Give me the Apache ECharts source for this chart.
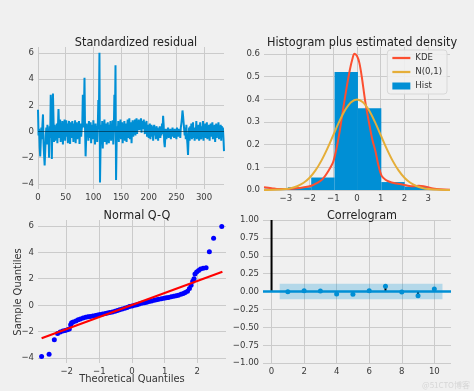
<!DOCTYPE html>
<html><head><meta charset="utf-8">
<script src="https://cdn.jsdelivr.net/npm/echarts@6/dist/echarts.min.js"></script>
<style>html,body{margin:0;padding:0;background:#f0f0f0}#c{width:474px;height:391px}</style>
</head><body><div id="c"></div>
<script>
// ---------- data ----------
const residual = [
 1.65,-0.3,0.2,-1.2,-1.9,-0.8,0.3,-0.6,0.5,1.3,
 -0.9,-1.8,-2.6,-1.5,-0.4,0.3,-1.0,0.5,-0.6,0.1,
 -2.0,0.4,-0.5,2.8,1.2,-2.1,0.6,2.9,1.0,-0.8,
 0.5,-0.7,0.2,-0.4,0.6,-0.9,0.3,1.7,0.4,-0.5,
 0.9,-0.8,0.3,-0.2,0.8,-1.0,0.5,0.1,0.9,-0.7,
 0.2,0.85,-0.4,0.6,-0.9,0.3,0.8,-0.2,-0.95,0.7,
 0.4,-0.5,0.8,0.1,-0.8,0.6,-0.3,0.85,-0.9,0.2,
 0.7,-0.6,0.4,-0.1,0.8,-0.95,0.3,0.6,-0.4,0.2,
 0.5,2.8,0.3,1.5,4.1,0.2,-1.9,-0.5,0.6,-0.3,
 0.4,-0.7,0.8,0.0,-0.5,0.7,-0.9,0.3,0.5,-0.6,
 0.85,-0.3,0.2,-1.0,0.6,-0.2,0.4,-0.8,0.3,2.4,
 1.0,6.0,-3.9,-1.2,0.5,-0.6,0.8,-1.3,0.4,-0.2,
 0.9,-0.8,0.2,0.6,-1.0,0.3,0.7,-0.5,-0.9,0.5,
 0.2,0.8,-0.7,0.3,-0.4,0.85,-1.0,0.1,2.8,0.9,
 5.05,-3.7,-0.9,0.4,-0.3,0.8,-0.8,0.5,0.0,0.9,
 -0.6,0.3,0.7,-0.9,0.4,-0.2,0.8,-0.7,0.2,0.6,
 -0.8,0.3,0.9,-0.5,0.1,1.0,-0.6,0.4,0.7,-0.9,
 0.3,0.85,-0.4,0.5,0.2,0.9,-0.3,0.6,1.0,-0.2,
 0.7,0.4,0.9,0.1,0.8,0.3,1.0,-0.1,0.6,0.8,
 0.2,0.9,0.4,-0.2,0.7,0.3,0.8,-0.4,0.5,0.6,
 -0.5,0.3,0.6,-0.6,0.2,0.5,-0.4,0.4,-0.7,0.3,
 0.5,-0.3,0.1,-0.6,0.4,-0.2,0.3,-0.7,0.2,-0.4,
 0.4,-0.5,0.1,-0.3,0.6,-0.2,1.2,0.5,-0.8,-1.2,
 -0.4,0.2,-0.6,0.1,-0.3,0.3,-0.5,0.0,-0.2,0.2,
 -0.6,0.1,-0.3,0.3,-0.4,0.0,-0.5,0.2,-0.2,0.1,
 -0.6,0.3,-0.1,-0.4,0.2,-0.3,0.1,-0.5,0.3,0.6,
 1.0,1.6,1.2,0.7,0.2,-0.3,0.3,-0.6,0.5,-0.4,
 -1.0,-1.8,-0.5,0.3,-0.7,0.4,-0.3,0.6,-0.6,0.2,
 0.7,-0.5,0.1,-0.7,0.3,-0.2,0.8,-0.6,0.2,-0.4,
 0.5,-0.7,0.1,0.7,-0.3,-0.6,0.4,-0.2,0.8,-0.7,
 0.2,-0.4,0.6,-0.5,0.1,0.7,-0.6,0.3,-0.3,0.5,
 -0.7,0.2,0.6,-0.4,-0.1,0.7,-0.6,0.3,-0.2,0.5,
 -0.8,0.1,0.6,-0.5,0.3,-0.3,0.7,-0.6,0.2,-0.4,
 0.5,-0.7,0.4,-0.2,0.3,-0.5,-1.5
];
const residTicksX = [0,50,100,150,200,250,300];
const residTicksY = [-4,-2,0,2,4,6];

const histLo = [-3.9,-2.915,-1.93,-0.945,0.04,1.025,2.01,2.995,3.98,4.965];
const histHi = [-2.915,-1.93,-0.945,0.04,1.025,2.01,2.995,3.98,4.965,5.95];
const histH  = [0.006,0.012,0.055,0.52,0.36,0.035,0.015,0.0,0.003,0.006];
const kdeX = [-3.92,-3.6,-3.3,-3.0,-2.7,-2.4,-2.1,-1.9,-1.7,-1.45,-1.2,-1.0,-0.85,-0.72,-0.58,-0.44,-0.3,-0.2,-0.11,0.0,0.1,0.2,0.34,0.5,0.65,0.78,0.9,1.04,1.2,1.4,1.6,1.8,2.0,2.2,2.4,2.6,2.8,3.0,3.2,3.5,3.92];
const kdeY = [0.012,0.008,0.004,0.004,0.006,0.009,0.014,0.02,0.03,0.048,0.085,0.125,0.19,0.265,0.36,0.45,0.53,0.575,0.6,0.59,0.56,0.5,0.395,0.3,0.22,0.17,0.11,0.062,0.045,0.035,0.03,0.026,0.022,0.018,0.017,0.019,0.017,0.012,0.007,0.003,0.001];
const normX = [-3.92,-3.5,-3.0,-2.75,-2.5,-2.25,-2.0,-1.75,-1.5,-1.25,-1.0,-0.75,-0.5,-0.25,0,0.25,0.5,0.75,1.0,1.25,1.5,1.75,2.0,2.25,2.5,2.75,3.0,3.5,3.92];
const normY = [0.0002,0.0009,0.0044,0.0091,0.0175,0.0317,0.054,0.0863,0.1295,0.1826,0.242,0.3011,0.3521,0.3867,0.3989,0.3867,0.3521,0.3011,0.242,0.1826,0.1295,0.0863,0.054,0.0317,0.0175,0.0091,0.0044,0.0009,0.0002];
const histTicksX = [-3,-2,-1,0,1,2,3];
const histTicksY = [0,0.1,0.2,0.3,0.4,0.5,0.6];

const qqTheo = [-2.77,-2.54,-2.38,-2.28,-2.2,-2.12,-2.05,-1.98,-1.92,-1.88,-1.85,-1.8,-1.72,-1.65,-1.58,-1.5,-1.42,-1.35,-1.28,-1.2,-1.12,-1.05,-0.98,-0.9,-0.82,-0.75,-0.68,-0.6,-0.52,-0.45,-0.38,-0.3,-0.22,-0.15,-0.08,0.0,0.08,0.15,0.22,0.3,0.38,0.45,0.52,0.6,0.68,0.75,0.82,0.9,0.98,1.05,1.12,1.2,1.28,1.35,1.42,1.5,1.57,1.63,1.7,1.76,1.81,1.86,1.9,1.93,1.98,2.04,2.1,2.18,2.27,2.37,2.5,2.75];
const qqSample = [-3.9,-3.72,-2.62,-2.15,-2.05,-1.97,-1.92,-1.88,-1.82,-1.5,-1.35,-1.28,-1.2,-1.12,-1.05,-0.98,-0.93,-0.89,-0.86,-0.83,-0.79,-0.76,-0.72,-0.68,-0.64,-0.6,-0.56,-0.52,-0.47,-0.42,-0.36,-0.3,-0.24,-0.18,-0.12,-0.07,-0.02,0.03,0.08,0.13,0.18,0.22,0.27,0.31,0.36,0.4,0.44,0.48,0.52,0.55,0.58,0.62,0.66,0.7,0.75,0.82,0.88,0.95,1.05,1.25,1.5,1.8,2.0,2.35,2.5,2.62,2.72,2.78,2.82,4.04,5.05,5.95];
const qqLineX = [-2.77,2.77];
const qqLineY = [-2.52,2.52];
const qqTicksX = [-2,-1,0,1,2];
const qqTicksY = [-4,-2,0,2,4,6];

const acfLags = [0,1,2,3,4,5,6,7,8,9,10];
const acfVals = [1.0,-0.005,0.01,0.008,-0.035,-0.04,0.01,0.075,-0.008,-0.058,0.035];
const confLo = [0.5], confHi = [10.5], confHalf = [0.107];
const acfTicksX = [0,2,4,6,8,10];
const acfTicksY = [-1,-0.75,-0.5,-0.25,0,0.25,0.5,0.75,1];

// ---------- styles ----------
const FONT = '"DejaVu Sans Condensed", "DejaVu Sans"';
const GRIDC = '#cbcbcb';
const TXT = '#3a3a3a';
const grids = [
  {left:38, top:47, width:186, height:142},
  {left:264, top:47, width:186, height:143},
  {left:38, top:220, width:188, height:143},
  {left:263, top:220, width:188, height:143}
];
function lbl(vals, fmt){
  return {show:true, customValues:vals, color:TXT, fontSize:9.5, fontFamily:FONT, margin:4,
    formatter: fmt || (v => { const s = String(+v.toFixed(4)); return s.replace('-', '\u2212'); })};
}
function xA(i, min, max, ticks, extra){
  return Object.assign({type:'value', gridIndex:i, min:min, max:max,
    axisLine:{show:false}, axisTick:{show:false}, splitLine:{show:false},
    axisLabel: lbl(ticks)}, extra||{});
}
function yA(i, min, max, ticks, fmt, extra){
  return Object.assign({type:'value', gridIndex:i, min:min, max:max,
    axisLine:{show:false}, axisTick:{show:false}, splitLine:{show:false},
    axisLabel: lbl(ticks, fmt)}, extra||{});
}
function gridLines(i, xs, ys){
  const d = xs.map(v=>({xAxis:v})).concat(ys.map(v=>({yAxis:v})));
  return {type:'line', xAxisIndex:i, yAxisIndex:i, data:[], z:0, silent:true,
    markLine:{silent:true, symbol:'none', z:0, animation:false, label:{show:false},
      lineStyle:{color:GRIDC, width:1, type:'solid'}, data:d}};
}
const HXMIN = -3.92, HXMAX = 3.92;
const neg = v => String(v).replace('-', '\u2212');
const fmt2 = v => neg(v.toFixed(2));
const fmt1 = v => v.toFixed(1);
const LINEICON = 'path://M0,0L24,0L24,3L0,3Z';
const TITLE = {fontSize:12.5, fontWeight:'normal', color:'#222', fontFamily:FONT};

const option = {
  animation:false,
  backgroundColor:'#f0f0f0',
  textStyle:{fontFamily:FONT},
  title:[
    {text:'Standardized residual', left:131, top:31, textAlign:'center', textStyle:TITLE},
    {text:'Histogram plus estimated density', left:357, top:31, textAlign:'center', textStyle:TITLE},
    {text:'Normal Q-Q', left:132, top:204, textAlign:'center', textStyle:TITLE},
    {text:'Correlogram', left:357, top:204, textAlign:'center', textStyle:TITLE}
  ],
  legend:{
    data:[{name:'KDE', icon:LINEICON},{name:'N(0,1)', icon:LINEICON},{name:'Hist', icon:'rect'}],
    orient:'vertical', right:27, top:50, itemGap:4, itemWidth:18, itemHeight:7,
    padding:[3,5,3,5], backgroundColor:'rgba(240,240,240,0.9)', borderColor:'#d8d8d8', borderWidth:1, borderRadius:3,
    textStyle:{fontSize:9.5, color:'#333', fontFamily:FONT}
  },
  grid: grids,
  xAxis:[
    xA(0, 0, 336, residTicksX),
    xA(1, HXMIN, HXMAX, histTicksX),
    xA(2, -2.88, 2.88, qqTicksX),
    xA(3, -0.525, 11.025, acfTicksX)
  ],
  yAxis:[
    yA(0, -4.39, 6.44, residTicksY),
    yA(1, 0, 0.63, histTicksY, fmt1),
    yA(2, -4.39, 6.44, qqTicksY),
    yA(3, -1, 1, acfTicksY, fmt2)
  ],
  graphic:[
    {type:'text', x:132, y:379, style:{text:'Theoretical Quantiles', align:'center', verticalAlign:'middle', fill:'#333', fontSize:11, fontFamily:FONT}},
    {type:'text', x:18, y:292, rotation:Math.PI/2, style:{text:'Sample Quantiles', align:'center', verticalAlign:'middle', fill:'#333', fontSize:11, fontFamily:FONT}},
    {type:'text', right:4, bottom:2, style:{text:'@51CTO博客', fill:'#d6d6d6', fontSize:8, fontFamily:'Noto Sans CJK SC'}}
  ],
  series:[
    gridLines(0, residTicksX, residTicksY),
    gridLines(1, histTicksX, histTicksY),
    gridLines(2, qqTicksX, qqTicksY),
    gridLines(3, acfTicksX, acfTicksY),
    // residual
    {type:'line', xAxisIndex:0, yAxisIndex:0, showSymbol:false, symbol:'none', z:3,
      data: residual.map((v,i)=>[i,v]), lineStyle:{color:'#008fd5', width:2}, itemStyle:{color:'#008fd5'},
      markLine:{silent:true, symbol:'none', z:4, label:{show:false}, lineStyle:{color:'rgba(0,0,0,0.45)', width:1.2, type:'solid'}, data:[{yAxis:0}]}},
    // histogram
    {type:'custom', name:'Hist', xAxisIndex:1, yAxisIndex:1, z:2, itemStyle:{color:'#008fd5'},
      data: histLo.map((lo,k)=>[lo, histHi[k], histH[k]]),
      renderItem:(params, api)=>{
        const lo = Math.max(api.value(0), HXMIN), hi = Math.min(api.value(1), HXMAX);
        if (hi <= lo || api.value(2) <= 0) return null;
        const p0 = api.coord([lo, api.value(2)]), p1 = api.coord([hi, 0]);
        return {type:'rect', shape:{x:p0[0], y:p0[1], width:p1[0]-p0[0], height:p1[1]-p0[1]}, style:{fill:'#008fd5'}};
      }},
    {type:'line', name:'KDE', xAxisIndex:1, yAxisIndex:1, smooth:0.3, symbol:'none', z:3,
      data: kdeX.map((x,k)=>[x,kdeY[k]]), lineStyle:{color:'#fc4f30', width:2}, itemStyle:{color:'#fc4f30'}},
    {type:'line', name:'N(0,1)', xAxisIndex:1, yAxisIndex:1, smooth:0.3, symbol:'none', z:3,
      data: normX.map((x,k)=>[x,normY[k]]), lineStyle:{color:'#e5ae38', width:2}, itemStyle:{color:'#e5ae38'}},
    // Q-Q
    {type:'scatter', xAxisIndex:2, yAxisIndex:2, symbolSize:5, z:3,
      data: qqTheo.map((x,k)=>[x,qqSample[k]]), itemStyle:{color:'#0000ff', opacity:1}},
    {type:'line', xAxisIndex:2, yAxisIndex:2, symbol:'none', z:4,
      data: qqLineX.map((x,k)=>[x,qqLineY[k]]), lineStyle:{color:'#ff0000', width:2}},
    // correlogram band
    {type:'custom', xAxisIndex:3, yAxisIndex:3, z:2, silent:true,
      data: confLo.map((lo,k)=>[lo, confHi[k], confHalf[k]]),
      renderItem:(params, api)=>{
        const p0 = api.coord([api.value(0), api.value(2)]), p1 = api.coord([api.value(1), -api.value(2)]);
        return {type:'rect', shape:{x:p0[0], y:p0[1], width:p1[0]-p0[0], height:p1[1]-p0[1]}, style:{fill:'rgba(0,143,213,0.25)'}};
      }},
    // stems
    {type:'custom', xAxisIndex:3, yAxisIndex:3, z:3, silent:true,
      data: acfLags.map((l,k)=>[l, acfVals[k]]),
      renderItem:(params, api)=>{
        const a = api.coord([api.value(0), 0]), b = api.coord([api.value(0), api.value(1)]);
        return {type:'line', shape:{x1:a[0], y1:a[1], x2:b[0], y2:b[1]}, style:{stroke:'#000', lineWidth:2}};
      },
      markLine:{silent:true, symbol:'none', z:4, label:{show:false}, lineStyle:{color:'#008fd5', width:2.5, type:'solid'}, data:[{yAxis:0}]}},
    {type:'scatter', xAxisIndex:3, yAxisIndex:3, symbolSize:5, z:5,
      data: acfLags.slice(1).map((l,k)=>[l, acfVals[k+1]]), itemStyle:{color:'#008fd5', opacity:1}}
  ]
};
const chart = echarts.init(document.getElementById('c'), null, {renderer:'canvas'});
chart.setOption(option);
</script></body></html>
